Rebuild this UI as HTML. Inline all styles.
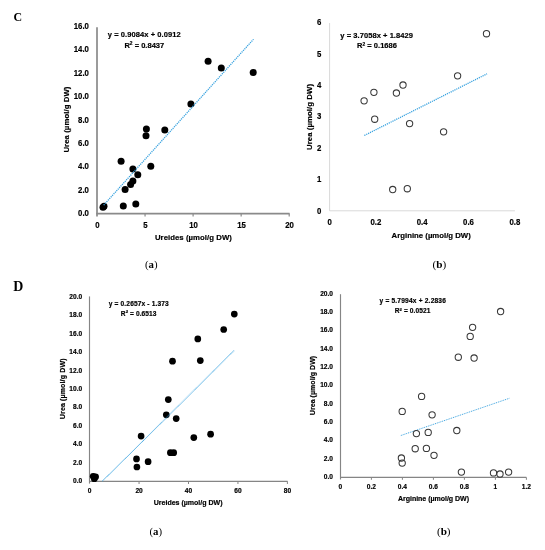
<!DOCTYPE html>
<html><head><meta charset="utf-8"><style>
html,body{margin:0;padding:0;background:#fff;}
body{width:545px;height:550px;overflow:hidden;font-family:"Liberation Sans", sans-serif;}
svg{display:block;will-change:transform;filter:blur(0.3px);}
text{font-family:"Liberation Sans", sans-serif;}
</style></head><body>
<svg width="545" height="550" viewBox="0 0 545 550">
<rect width="545" height="550" fill="#fff"/>
<text x="13.50" y="21.05" font-size="13.50" font-weight="bold" text-anchor="start" fill="#000" style='font-family:"Liberation Serif", serif' textLength="8.60" lengthAdjust="spacingAndGlyphs">C</text>
<text x="88.90" y="216.22" font-size="8.42" font-weight="bold" text-anchor="end" fill="#000" stroke="#000" stroke-width="0.18" textLength="10.84" lengthAdjust="spacingAndGlyphs">0.0</text>
<text x="88.90" y="192.82" font-size="8.42" font-weight="bold" text-anchor="end" fill="#000" stroke="#000" stroke-width="0.18" textLength="10.84" lengthAdjust="spacingAndGlyphs">2.0</text>
<text x="88.90" y="169.42" font-size="8.42" font-weight="bold" text-anchor="end" fill="#000" stroke="#000" stroke-width="0.18" textLength="10.84" lengthAdjust="spacingAndGlyphs">4.0</text>
<text x="88.90" y="146.02" font-size="8.42" font-weight="bold" text-anchor="end" fill="#000" stroke="#000" stroke-width="0.18" textLength="10.84" lengthAdjust="spacingAndGlyphs">6.0</text>
<text x="88.90" y="122.62" font-size="8.42" font-weight="bold" text-anchor="end" fill="#000" stroke="#000" stroke-width="0.18" textLength="10.84" lengthAdjust="spacingAndGlyphs">8.0</text>
<text x="88.90" y="99.22" font-size="8.42" font-weight="bold" text-anchor="end" fill="#000" stroke="#000" stroke-width="0.18" textLength="15.18" lengthAdjust="spacingAndGlyphs">10.0</text>
<text x="88.90" y="75.82" font-size="8.42" font-weight="bold" text-anchor="end" fill="#000" stroke="#000" stroke-width="0.18" textLength="15.18" lengthAdjust="spacingAndGlyphs">12.0</text>
<text x="88.90" y="52.42" font-size="8.42" font-weight="bold" text-anchor="end" fill="#000" stroke="#000" stroke-width="0.18" textLength="15.18" lengthAdjust="spacingAndGlyphs">14.0</text>
<text x="88.90" y="29.02" font-size="8.42" font-weight="bold" text-anchor="end" fill="#000" stroke="#000" stroke-width="0.18" textLength="15.18" lengthAdjust="spacingAndGlyphs">16.0</text>
<text x="97.40" y="227.82" font-size="8.42" font-weight="bold" text-anchor="middle" fill="#000" stroke="#000" stroke-width="0.18" textLength="4.34" lengthAdjust="spacingAndGlyphs">0</text>
<text x="145.45" y="227.82" font-size="8.42" font-weight="bold" text-anchor="middle" fill="#000" stroke="#000" stroke-width="0.18" textLength="4.34" lengthAdjust="spacingAndGlyphs">5</text>
<text x="193.50" y="227.82" font-size="8.42" font-weight="bold" text-anchor="middle" fill="#000" stroke="#000" stroke-width="0.18" textLength="8.68" lengthAdjust="spacingAndGlyphs">10</text>
<text x="241.55" y="227.82" font-size="8.42" font-weight="bold" text-anchor="middle" fill="#000" stroke="#000" stroke-width="0.18" textLength="8.68" lengthAdjust="spacingAndGlyphs">15</text>
<text x="289.60" y="227.82" font-size="8.42" font-weight="bold" text-anchor="middle" fill="#000" stroke="#000" stroke-width="0.18" textLength="8.68" lengthAdjust="spacingAndGlyphs">20</text>
<text x="154.90" y="240.11" font-size="7.75" font-weight="bold" text-anchor="start" fill="#000" stroke="#000" stroke-width="0.18" textLength="77.00" lengthAdjust="spacing">Ureides (µmol/g DW)</text>
<text x="66.80" y="121.61" font-size="7.75" font-weight="bold" text-anchor="middle" fill="#000" stroke="#000" stroke-width="0.18" textLength="66.00" lengthAdjust="spacing" transform="rotate(-90 66.80 119.60)">Urea (µmol/g DW)</text>
<text x="107.70" y="37.39" font-size="7.50" font-weight="bold" text-anchor="start" fill="#000" stroke="#000" stroke-width="0.18" textLength="73.00" lengthAdjust="spacing">y = 0.9084x + 0.0912</text>
<text x="124.40" y="47.98" font-size="7.50" font-weight="bold" text-anchor="start" fill="#000" stroke="#000" stroke-width="0.18" textLength="39.80" lengthAdjust="spacing">R<tspan font-size="4.8" dy="-2.6">2</tspan><tspan dy="2.6"> = 0.8437</tspan></text>
<line x1="97.00" y1="27.30" x2="97.00" y2="216.50" stroke="#8a8a8a" stroke-width="1.7" />
<line x1="96.20" y1="213.60" x2="289.60" y2="213.60" stroke="#8a8a8a" stroke-width="1.6" />
<line x1="145.05" y1="213.60" x2="145.05" y2="216.60" stroke="#8a8a8a" stroke-width="1.2" />
<line x1="193.10" y1="213.60" x2="193.10" y2="216.60" stroke="#8a8a8a" stroke-width="1.2" />
<line x1="241.15" y1="213.60" x2="241.15" y2="216.60" stroke="#8a8a8a" stroke-width="1.2" />
<line x1="289.20" y1="213.60" x2="289.20" y2="216.60" stroke="#8a8a8a" stroke-width="1.2" />
<circle cx="103.00" cy="207.30" r="3.5" fill="#000"/>
<circle cx="104.00" cy="206.30" r="3.5" fill="#000"/>
<circle cx="123.30" cy="206.10" r="3.5" fill="#000"/>
<circle cx="135.80" cy="203.90" r="3.5" fill="#000"/>
<circle cx="125.10" cy="189.50" r="3.5" fill="#000"/>
<circle cx="130.60" cy="184.60" r="3.5" fill="#000"/>
<circle cx="132.90" cy="181.00" r="3.5" fill="#000"/>
<circle cx="137.80" cy="174.80" r="3.5" fill="#000"/>
<circle cx="132.90" cy="169.10" r="3.5" fill="#000"/>
<circle cx="121.10" cy="161.30" r="3.5" fill="#000"/>
<circle cx="150.80" cy="166.30" r="3.5" fill="#000"/>
<circle cx="146.00" cy="135.80" r="3.5" fill="#000"/>
<circle cx="146.40" cy="129.10" r="3.5" fill="#000"/>
<circle cx="164.80" cy="130.10" r="3.5" fill="#000"/>
<circle cx="190.90" cy="104.00" r="3.5" fill="#000"/>
<circle cx="208.10" cy="61.30" r="3.5" fill="#000"/>
<circle cx="221.30" cy="67.90" r="3.5" fill="#000"/>
<circle cx="253.20" cy="72.50" r="3.5" fill="#000"/>
<line x1="103.72" y1="205.09" x2="253.48" y2="39.29" stroke="#38a2df" stroke-width="1.3" stroke-dasharray="1.2 0.9"/>
<text x="145.00" y="267.50" font-size="11.3" style='font-family:"Liberation Serif", serif' textLength="12.60" lengthAdjust="spacingAndGlyphs">(<tspan font-weight="bold">a</tspan>)</text>
<line x1="329.60" y1="23.00" x2="329.60" y2="210.80" stroke="#d9d9d9" stroke-width="1.0" />
<line x1="329.60" y1="210.80" x2="514.90" y2="210.80" stroke="#d9d9d9" stroke-width="1.0" />
<text x="321.40" y="213.52" font-size="8.42" font-weight="bold" text-anchor="end" fill="#000" stroke="#000" stroke-width="0.18" textLength="4.34" lengthAdjust="spacingAndGlyphs">0</text>
<text x="321.40" y="182.12" font-size="8.42" font-weight="bold" text-anchor="end" fill="#000" stroke="#000" stroke-width="0.18" textLength="4.34" lengthAdjust="spacingAndGlyphs">1</text>
<text x="321.40" y="150.72" font-size="8.42" font-weight="bold" text-anchor="end" fill="#000" stroke="#000" stroke-width="0.18" textLength="4.34" lengthAdjust="spacingAndGlyphs">2</text>
<text x="321.40" y="119.32" font-size="8.42" font-weight="bold" text-anchor="end" fill="#000" stroke="#000" stroke-width="0.18" textLength="4.34" lengthAdjust="spacingAndGlyphs">3</text>
<text x="321.40" y="87.92" font-size="8.42" font-weight="bold" text-anchor="end" fill="#000" stroke="#000" stroke-width="0.18" textLength="4.34" lengthAdjust="spacingAndGlyphs">4</text>
<text x="321.40" y="56.52" font-size="8.42" font-weight="bold" text-anchor="end" fill="#000" stroke="#000" stroke-width="0.18" textLength="4.34" lengthAdjust="spacingAndGlyphs">5</text>
<text x="321.40" y="25.12" font-size="8.42" font-weight="bold" text-anchor="end" fill="#000" stroke="#000" stroke-width="0.18" textLength="4.34" lengthAdjust="spacingAndGlyphs">6</text>
<text x="329.60" y="225.02" font-size="8.42" font-weight="bold" text-anchor="middle" fill="#000" stroke="#000" stroke-width="0.18" textLength="4.34" lengthAdjust="spacingAndGlyphs">0</text>
<text x="375.90" y="225.02" font-size="8.42" font-weight="bold" text-anchor="middle" fill="#000" stroke="#000" stroke-width="0.18" textLength="10.84" lengthAdjust="spacingAndGlyphs">0.2</text>
<text x="422.20" y="225.02" font-size="8.42" font-weight="bold" text-anchor="middle" fill="#000" stroke="#000" stroke-width="0.18" textLength="10.84" lengthAdjust="spacingAndGlyphs">0.4</text>
<text x="468.50" y="225.02" font-size="8.42" font-weight="bold" text-anchor="middle" fill="#000" stroke="#000" stroke-width="0.18" textLength="10.84" lengthAdjust="spacingAndGlyphs">0.6</text>
<text x="514.80" y="225.02" font-size="8.42" font-weight="bold" text-anchor="middle" fill="#000" stroke="#000" stroke-width="0.18" textLength="10.84" lengthAdjust="spacingAndGlyphs">0.8</text>
<text x="391.60" y="238.41" font-size="7.75" font-weight="bold" text-anchor="start" fill="#000" stroke="#000" stroke-width="0.18" textLength="79.20" lengthAdjust="spacing">Arginine (µmol/g DW)</text>
<text x="309.60" y="119.02" font-size="7.75" font-weight="bold" text-anchor="middle" fill="#000" stroke="#000" stroke-width="0.18" textLength="66.00" lengthAdjust="spacing" transform="rotate(-90 309.60 117.00)">Urea (µmol/g DW)</text>
<text x="340.30" y="37.89" font-size="7.50" font-weight="bold" text-anchor="start" fill="#000" stroke="#000" stroke-width="0.18" textLength="72.60" lengthAdjust="spacing">y = 3.7058x + 1.8429</text>
<text x="357.00" y="48.29" font-size="7.50" font-weight="bold" text-anchor="start" fill="#000" stroke="#000" stroke-width="0.18" textLength="39.90" lengthAdjust="spacing">R<tspan font-size="4.8" dy="-2.6">2</tspan><tspan dy="2.6"> = 0.1686</tspan></text>
<line x1="364.33" y1="135.48" x2="487.02" y2="73.81" stroke="#38a2df" stroke-width="1.3" stroke-dasharray="1.2 0.9"/>
<circle cx="364.10" cy="100.80" r="3.15" fill="none" stroke="#383838" stroke-width="1.05"/>
<circle cx="373.90" cy="92.30" r="3.15" fill="none" stroke="#383838" stroke-width="1.05"/>
<circle cx="396.40" cy="93.00" r="3.15" fill="none" stroke="#383838" stroke-width="1.05"/>
<circle cx="403.00" cy="85.00" r="3.15" fill="none" stroke="#383838" stroke-width="1.05"/>
<circle cx="374.70" cy="119.20" r="3.15" fill="none" stroke="#383838" stroke-width="1.05"/>
<circle cx="409.60" cy="123.60" r="3.15" fill="none" stroke="#383838" stroke-width="1.05"/>
<circle cx="486.50" cy="33.70" r="3.15" fill="none" stroke="#383838" stroke-width="1.05"/>
<circle cx="457.60" cy="75.80" r="3.15" fill="none" stroke="#383838" stroke-width="1.05"/>
<circle cx="443.60" cy="131.80" r="3.15" fill="none" stroke="#383838" stroke-width="1.05"/>
<circle cx="392.70" cy="189.50" r="3.15" fill="none" stroke="#383838" stroke-width="1.05"/>
<circle cx="407.30" cy="188.70" r="3.15" fill="none" stroke="#383838" stroke-width="1.05"/>
<text x="432.60" y="267.50" font-size="11.3" style='font-family:"Liberation Serif", serif' textLength="13.70" lengthAdjust="spacingAndGlyphs">(<tspan font-weight="bold">b</tspan>)</text>
<text x="13.20" y="291.22" font-size="14.00" font-weight="bold" text-anchor="start" fill="#000" style='font-family:"Liberation Serif", serif' textLength="10.10" lengthAdjust="spacingAndGlyphs">D</text>
<text x="82.20" y="483.33" font-size="6.80" font-weight="bold" text-anchor="end" fill="#000" stroke="#000" stroke-width="0.18" textLength="9.17" lengthAdjust="spacingAndGlyphs">0.0</text>
<text x="82.20" y="464.87" font-size="6.80" font-weight="bold" text-anchor="end" fill="#000" stroke="#000" stroke-width="0.18" textLength="9.17" lengthAdjust="spacingAndGlyphs">2.0</text>
<text x="82.20" y="446.41" font-size="6.80" font-weight="bold" text-anchor="end" fill="#000" stroke="#000" stroke-width="0.18" textLength="9.17" lengthAdjust="spacingAndGlyphs">4.0</text>
<text x="82.20" y="427.95" font-size="6.80" font-weight="bold" text-anchor="end" fill="#000" stroke="#000" stroke-width="0.18" textLength="9.17" lengthAdjust="spacingAndGlyphs">6.0</text>
<text x="82.20" y="409.49" font-size="6.80" font-weight="bold" text-anchor="end" fill="#000" stroke="#000" stroke-width="0.18" textLength="9.17" lengthAdjust="spacingAndGlyphs">8.0</text>
<text x="82.20" y="391.03" font-size="6.80" font-weight="bold" text-anchor="end" fill="#000" stroke="#000" stroke-width="0.18" textLength="12.84" lengthAdjust="spacingAndGlyphs">10.0</text>
<text x="82.20" y="372.57" font-size="6.80" font-weight="bold" text-anchor="end" fill="#000" stroke="#000" stroke-width="0.18" textLength="12.84" lengthAdjust="spacingAndGlyphs">12.0</text>
<text x="82.20" y="354.11" font-size="6.80" font-weight="bold" text-anchor="end" fill="#000" stroke="#000" stroke-width="0.18" textLength="12.84" lengthAdjust="spacingAndGlyphs">14.0</text>
<text x="82.20" y="335.65" font-size="6.80" font-weight="bold" text-anchor="end" fill="#000" stroke="#000" stroke-width="0.18" textLength="12.84" lengthAdjust="spacingAndGlyphs">16.0</text>
<text x="82.20" y="317.19" font-size="6.80" font-weight="bold" text-anchor="end" fill="#000" stroke="#000" stroke-width="0.18" textLength="12.84" lengthAdjust="spacingAndGlyphs">18.0</text>
<text x="82.20" y="298.73" font-size="6.80" font-weight="bold" text-anchor="end" fill="#000" stroke="#000" stroke-width="0.18" textLength="12.84" lengthAdjust="spacingAndGlyphs">20.0</text>
<text x="89.60" y="493.43" font-size="6.80" font-weight="bold" text-anchor="middle" fill="#000" stroke="#000" stroke-width="0.18" textLength="3.67" lengthAdjust="spacingAndGlyphs">0</text>
<text x="139.05" y="493.43" font-size="6.80" font-weight="bold" text-anchor="middle" fill="#000" stroke="#000" stroke-width="0.18" textLength="7.34" lengthAdjust="spacingAndGlyphs">20</text>
<text x="188.50" y="493.43" font-size="6.80" font-weight="bold" text-anchor="middle" fill="#000" stroke="#000" stroke-width="0.18" textLength="7.34" lengthAdjust="spacingAndGlyphs">40</text>
<text x="237.95" y="493.43" font-size="6.80" font-weight="bold" text-anchor="middle" fill="#000" stroke="#000" stroke-width="0.18" textLength="7.34" lengthAdjust="spacingAndGlyphs">60</text>
<text x="287.40" y="493.43" font-size="6.80" font-weight="bold" text-anchor="middle" fill="#000" stroke="#000" stroke-width="0.18" textLength="7.34" lengthAdjust="spacingAndGlyphs">80</text>
<text x="153.80" y="504.53" font-size="7.05" font-weight="bold" text-anchor="start" fill="#000" stroke="#000" stroke-width="0.18" textLength="68.70" lengthAdjust="spacing">Ureides (µmol/g DW)</text>
<text x="62.70" y="390.63" font-size="7.05" font-weight="bold" text-anchor="middle" fill="#000" stroke="#000" stroke-width="0.18" textLength="60.70" lengthAdjust="spacing" transform="rotate(-90 62.70 388.80)">Urea (µmol/g DW)</text>
<text x="108.80" y="306.46" font-size="6.60" font-weight="bold" text-anchor="start" fill="#000" stroke="#000" stroke-width="0.18" textLength="59.90" lengthAdjust="spacing">y = 0.2657x - 1.373</text>
<text x="120.80" y="315.76" font-size="6.60" font-weight="bold" text-anchor="start" fill="#000" stroke="#000" stroke-width="0.18" textLength="35.70" lengthAdjust="spacing">R<tspan font-size="4.3" dy="-2.3">2</tspan><tspan dy="2.3"> = 0.6513</tspan></text>
<line x1="89.50" y1="296.40" x2="89.50" y2="483.60" stroke="#858585" stroke-width="1.15" />
<line x1="89.50" y1="481.30" x2="287.60" y2="481.30" stroke="#858585" stroke-width="1.15" />
<line x1="139.05" y1="481.30" x2="139.05" y2="484.00" stroke="#858585" stroke-width="1.0" />
<line x1="188.50" y1="481.30" x2="188.50" y2="484.00" stroke="#858585" stroke-width="1.0" />
<line x1="237.95" y1="481.30" x2="237.95" y2="484.00" stroke="#858585" stroke-width="1.0" />
<line x1="287.40" y1="481.30" x2="287.40" y2="484.00" stroke="#858585" stroke-width="1.0" />
<circle cx="234.30" cy="314.10" r="3.35" fill="#000"/>
<circle cx="223.70" cy="329.50" r="3.35" fill="#000"/>
<circle cx="197.80" cy="338.90" r="3.35" fill="#000"/>
<circle cx="172.50" cy="361.20" r="3.35" fill="#000"/>
<circle cx="200.30" cy="360.60" r="3.35" fill="#000"/>
<circle cx="168.30" cy="399.60" r="3.35" fill="#000"/>
<circle cx="166.30" cy="414.80" r="3.35" fill="#000"/>
<circle cx="176.20" cy="418.60" r="3.35" fill="#000"/>
<circle cx="141.10" cy="436.10" r="3.35" fill="#000"/>
<circle cx="193.80" cy="437.60" r="3.35" fill="#000"/>
<circle cx="210.60" cy="434.20" r="3.35" fill="#000"/>
<circle cx="170.40" cy="452.70" r="3.35" fill="#000"/>
<circle cx="173.70" cy="452.70" r="3.35" fill="#000"/>
<circle cx="136.50" cy="458.90" r="3.35" fill="#000"/>
<circle cx="148.10" cy="461.70" r="3.35" fill="#000"/>
<circle cx="136.90" cy="467.00" r="3.35" fill="#000"/>
<circle cx="93.20" cy="476.30" r="3.35" fill="#000"/>
<circle cx="95.60" cy="476.80" r="3.35" fill="#000"/>
<circle cx="94.30" cy="478.70" r="3.35" fill="#000"/>
<line x1="102.38" y1="481.19" x2="234.24" y2="350.41" stroke="#38a2df" stroke-width="1.05" stroke-dasharray="0.75 0.65"/>
<text x="149.40" y="534.90" font-size="11.3" style='font-family:"Liberation Serif", serif' textLength="12.60" lengthAdjust="spacingAndGlyphs">(<tspan font-weight="bold">a</tspan>)</text>
<text x="333.00" y="479.13" font-size="6.80" font-weight="bold" text-anchor="end" fill="#000" stroke="#000" stroke-width="0.18" textLength="9.17" lengthAdjust="spacingAndGlyphs">0.0</text>
<text x="333.00" y="460.79" font-size="6.80" font-weight="bold" text-anchor="end" fill="#000" stroke="#000" stroke-width="0.18" textLength="9.17" lengthAdjust="spacingAndGlyphs">2.0</text>
<text x="333.00" y="442.45" font-size="6.80" font-weight="bold" text-anchor="end" fill="#000" stroke="#000" stroke-width="0.18" textLength="9.17" lengthAdjust="spacingAndGlyphs">4.0</text>
<text x="333.00" y="424.11" font-size="6.80" font-weight="bold" text-anchor="end" fill="#000" stroke="#000" stroke-width="0.18" textLength="9.17" lengthAdjust="spacingAndGlyphs">6.0</text>
<text x="333.00" y="405.77" font-size="6.80" font-weight="bold" text-anchor="end" fill="#000" stroke="#000" stroke-width="0.18" textLength="9.17" lengthAdjust="spacingAndGlyphs">8.0</text>
<text x="333.00" y="387.43" font-size="6.80" font-weight="bold" text-anchor="end" fill="#000" stroke="#000" stroke-width="0.18" textLength="12.84" lengthAdjust="spacingAndGlyphs">10.0</text>
<text x="333.00" y="369.09" font-size="6.80" font-weight="bold" text-anchor="end" fill="#000" stroke="#000" stroke-width="0.18" textLength="12.84" lengthAdjust="spacingAndGlyphs">12.0</text>
<text x="333.00" y="350.75" font-size="6.80" font-weight="bold" text-anchor="end" fill="#000" stroke="#000" stroke-width="0.18" textLength="12.84" lengthAdjust="spacingAndGlyphs">14.0</text>
<text x="333.00" y="332.41" font-size="6.80" font-weight="bold" text-anchor="end" fill="#000" stroke="#000" stroke-width="0.18" textLength="12.84" lengthAdjust="spacingAndGlyphs">16.0</text>
<text x="333.00" y="314.07" font-size="6.80" font-weight="bold" text-anchor="end" fill="#000" stroke="#000" stroke-width="0.18" textLength="12.84" lengthAdjust="spacingAndGlyphs">18.0</text>
<text x="333.00" y="295.73" font-size="6.80" font-weight="bold" text-anchor="end" fill="#000" stroke="#000" stroke-width="0.18" textLength="12.84" lengthAdjust="spacingAndGlyphs">20.0</text>
<text x="340.40" y="489.23" font-size="6.80" font-weight="bold" text-anchor="middle" fill="#000" stroke="#000" stroke-width="0.18" textLength="3.67" lengthAdjust="spacingAndGlyphs">0</text>
<text x="371.40" y="489.23" font-size="6.80" font-weight="bold" text-anchor="middle" fill="#000" stroke="#000" stroke-width="0.18" textLength="9.17" lengthAdjust="spacingAndGlyphs">0.2</text>
<text x="402.40" y="489.23" font-size="6.80" font-weight="bold" text-anchor="middle" fill="#000" stroke="#000" stroke-width="0.18" textLength="9.17" lengthAdjust="spacingAndGlyphs">0.4</text>
<text x="433.40" y="489.23" font-size="6.80" font-weight="bold" text-anchor="middle" fill="#000" stroke="#000" stroke-width="0.18" textLength="9.17" lengthAdjust="spacingAndGlyphs">0.6</text>
<text x="464.40" y="489.23" font-size="6.80" font-weight="bold" text-anchor="middle" fill="#000" stroke="#000" stroke-width="0.18" textLength="9.17" lengthAdjust="spacingAndGlyphs">0.8</text>
<text x="495.40" y="489.23" font-size="6.80" font-weight="bold" text-anchor="middle" fill="#000" stroke="#000" stroke-width="0.18" textLength="3.67" lengthAdjust="spacingAndGlyphs">1</text>
<text x="526.40" y="489.23" font-size="6.80" font-weight="bold" text-anchor="middle" fill="#000" stroke="#000" stroke-width="0.18" textLength="9.17" lengthAdjust="spacingAndGlyphs">1.2</text>
<text x="398.00" y="501.33" font-size="7.05" font-weight="bold" text-anchor="start" fill="#000" stroke="#000" stroke-width="0.18" textLength="71.00" lengthAdjust="spacing">Arginine (µmol/g DW)</text>
<text x="312.90" y="387.33" font-size="7.05" font-weight="bold" text-anchor="middle" fill="#000" stroke="#000" stroke-width="0.18" textLength="59.40" lengthAdjust="spacing" transform="rotate(-90 312.90 385.50)">Urea (µmol/g DW)</text>
<text x="379.50" y="303.36" font-size="6.60" font-weight="bold" text-anchor="start" fill="#000" stroke="#000" stroke-width="0.18" textLength="66.40" lengthAdjust="spacing">y = 5.7994x + 2.2836</text>
<text x="394.70" y="312.96" font-size="6.60" font-weight="bold" text-anchor="start" fill="#000" stroke="#000" stroke-width="0.18" textLength="35.80" lengthAdjust="spacing">R<tspan font-size="4.3" dy="-2.3">2</tspan><tspan dy="2.3"> = 0.0521</tspan></text>
<line x1="340.50" y1="294.20" x2="340.50" y2="479.50" stroke="#858585" stroke-width="1.15" />
<line x1="340.40" y1="477.40" x2="526.40" y2="477.40" stroke="#858585" stroke-width="1.15" />
<line x1="371.40" y1="477.40" x2="371.40" y2="479.80" stroke="#858585" stroke-width="1.0" />
<line x1="402.40" y1="477.40" x2="402.40" y2="479.80" stroke="#858585" stroke-width="1.0" />
<line x1="433.40" y1="477.40" x2="433.40" y2="479.80" stroke="#858585" stroke-width="1.0" />
<line x1="464.40" y1="477.40" x2="464.40" y2="479.80" stroke="#858585" stroke-width="1.0" />
<line x1="495.40" y1="477.40" x2="495.40" y2="479.80" stroke="#858585" stroke-width="1.0" />
<line x1="526.40" y1="477.40" x2="526.40" y2="479.80" stroke="#858585" stroke-width="1.0" />
<line x1="400.85" y1="435.52" x2="509.35" y2="398.29" stroke="#38a2df" stroke-width="1.0" stroke-dasharray="1 0.9"/>
<circle cx="500.60" cy="311.50" r="3.15" fill="none" stroke="#383838" stroke-width="1.05"/>
<circle cx="472.60" cy="327.30" r="3.15" fill="none" stroke="#383838" stroke-width="1.05"/>
<circle cx="470.20" cy="336.40" r="3.15" fill="none" stroke="#383838" stroke-width="1.05"/>
<circle cx="458.30" cy="357.20" r="3.15" fill="none" stroke="#383838" stroke-width="1.05"/>
<circle cx="474.10" cy="358.00" r="3.15" fill="none" stroke="#383838" stroke-width="1.05"/>
<circle cx="421.60" cy="396.40" r="3.15" fill="none" stroke="#383838" stroke-width="1.05"/>
<circle cx="402.20" cy="411.40" r="3.15" fill="none" stroke="#383838" stroke-width="1.05"/>
<circle cx="432.10" cy="414.80" r="3.15" fill="none" stroke="#383838" stroke-width="1.05"/>
<circle cx="416.40" cy="433.60" r="3.15" fill="none" stroke="#383838" stroke-width="1.05"/>
<circle cx="428.20" cy="432.40" r="3.15" fill="none" stroke="#383838" stroke-width="1.05"/>
<circle cx="456.80" cy="430.50" r="3.15" fill="none" stroke="#383838" stroke-width="1.05"/>
<circle cx="415.20" cy="448.70" r="3.15" fill="none" stroke="#383838" stroke-width="1.05"/>
<circle cx="426.40" cy="448.40" r="3.15" fill="none" stroke="#383838" stroke-width="1.05"/>
<circle cx="434.00" cy="455.30" r="3.15" fill="none" stroke="#383838" stroke-width="1.05"/>
<circle cx="401.40" cy="458.00" r="3.15" fill="none" stroke="#383838" stroke-width="1.05"/>
<circle cx="402.20" cy="463.10" r="3.15" fill="none" stroke="#383838" stroke-width="1.05"/>
<circle cx="461.40" cy="472.10" r="3.15" fill="none" stroke="#383838" stroke-width="1.05"/>
<circle cx="493.50" cy="472.90" r="3.15" fill="none" stroke="#383838" stroke-width="1.05"/>
<circle cx="500.00" cy="474.00" r="3.15" fill="none" stroke="#383838" stroke-width="1.05"/>
<circle cx="508.60" cy="472.10" r="3.15" fill="none" stroke="#383838" stroke-width="1.05"/>
<text x="436.90" y="534.90" font-size="11.3" style='font-family:"Liberation Serif", serif' textLength="13.70" lengthAdjust="spacingAndGlyphs">(<tspan font-weight="bold">b</tspan>)</text>
</svg>
</body></html>
